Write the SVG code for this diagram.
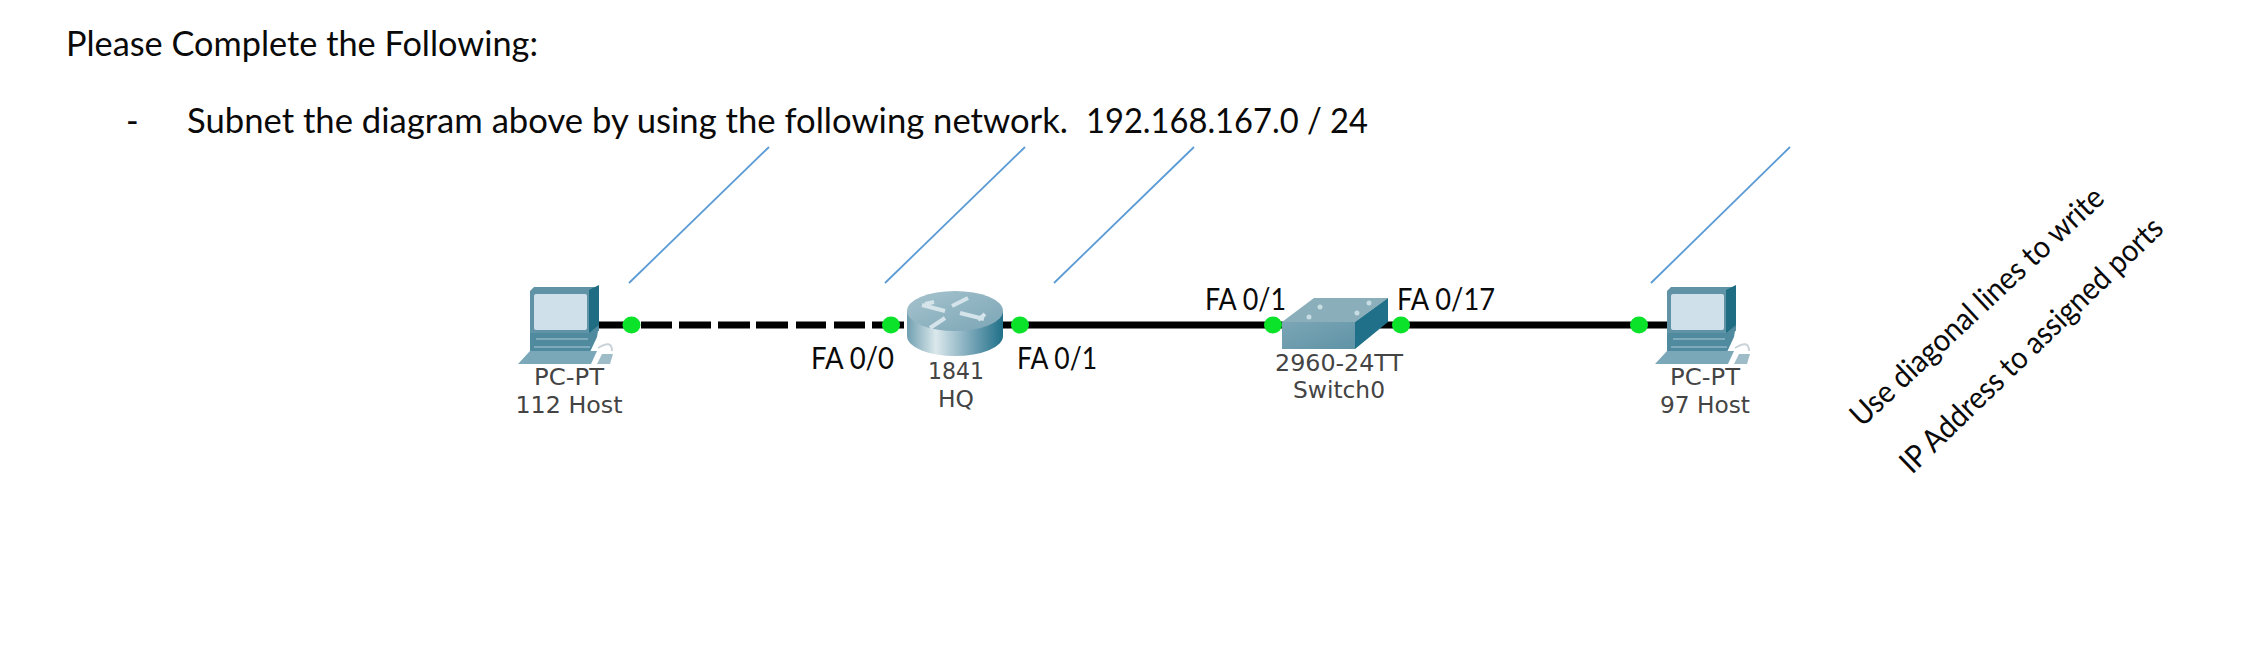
<svg xmlns="http://www.w3.org/2000/svg" width="2247" height="647" viewBox="0 0 2247 647">
<style>
.cal{font-family:Lato,"Liberation Sans",sans-serif;fill:#0a0a0a}
.h{font-size:34px}.p{font-size:30px}.r{font-size:31px}
.pt{font-family:"DejaVu Sans","Liberation Sans",sans-serif;font-size:23px;fill:#444;text-anchor:middle}
.ln{stroke:#5b9bd5;stroke-width:1.8;fill:none}
.w{stroke:#000;stroke-width:7;fill:none}
.d{fill:#0be32a}
</style>
<defs>
<linearGradient id="rb" x1="0" x2="1" y1="0" y2="0"><stop offset="0" stop-color="#6f9fb0"/><stop offset=".3" stop-color="#dbe8ec"/><stop offset=".7" stop-color="#6fa0b3"/><stop offset="1" stop-color="#1f7088"/></linearGradient>
<linearGradient id="rt" x1="0" x2="1" y1="0" y2="1"><stop offset="0" stop-color="#a6c3ce"/><stop offset="1" stop-color="#7ba5b5"/></linearGradient>
<linearGradient id="sf" x1="0" x2="1" y1="0" y2="1"><stop offset="0" stop-color="#7ba6b6"/><stop offset="1" stop-color="#5f93a6"/></linearGradient>
<g id="pc">
<path d="M12 6 L16 2 H81 V46 L70 48 H12 Z" fill="#5f93a5"/>
<path d="M71 5 L81 0 V42 L71 50 Z" fill="#1e6d82"/>
<rect x="16" y="9" width="53" height="36" rx="2" fill="#cfe0ea"/>
<path d="M12 48 H71 L81 40 L79 52 L72 67 H12 Z" fill="#4f8a9e"/>
<path d="M18 54 H70M16 62 H72" stroke="#7eaabb" stroke-width="2" fill="none"/>
<path d="M12 66 H79 L73 79 H0 Z" fill="#7ba8b9"/>
<path d="M79 79 H92 L95 69 H84 Z" fill="#9dbcc8"/>
<path d="M80 63 Q94 54 94 66" fill="none" stroke="#c9d3d8" stroke-width="2"/>
</g>
</defs>
<rect width="2247" height="647" fill="#fff"/>

<g id="text">
<text class="cal h" x="66" y="56" textLength="472" lengthAdjust="spacingAndGlyphs">Please Complete the Following:</text>
<text class="cal h" x="126" y="133">-</text>
<text class="cal h" x="187" y="133" textLength="881" lengthAdjust="spacingAndGlyphs">Subnet the diagram above by using the following network.</text>
<text class="cal h" x="1086" y="133" textLength="282" lengthAdjust="spacingAndGlyphs">192.168.167.0 / 24</text>
<text class="cal r" transform="translate(1862 428) rotate(-43)" textLength="334" lengthAdjust="spacingAndGlyphs">Use diagonal lines to write</text>
<text class="cal r" transform="translate(1912 475) rotate(-44)" textLength="352" lengthAdjust="spacingAndGlyphs">IP Address to assigned ports</text>
</g>

<g id="connectors">
<line class="ln" x1="629" y1="283" x2="769" y2="147"/>
<line class="ln" x1="885" y1="283" x2="1025" y2="147"/>
<line class="ln" x1="1054" y1="283" x2="1194" y2="147"/>
<line class="ln" x1="1651" y1="283" x2="1790" y2="147"/>
<line class="w" x1="598" y1="325" x2="636" y2="325"/>
<path class="w" d="M641 325H672M679 325H711M718 325H750M756 325H788M796 325H826M834 325H865M872 325H904"/>
<line class="w" x1="1000" y1="325" x2="1290" y2="325"/>
<line class="w" x1="1380" y1="325" x2="1670" y2="325"/>
<ellipse class="d" cx="631.5" cy="325" rx="9" ry="8.5"/>
<ellipse class="d" cx="891" cy="325" rx="9" ry="8.5"/>
<ellipse class="d" cx="1020" cy="325" rx="9" ry="8.5"/>
<ellipse class="d" cx="1273" cy="325" rx="9" ry="8.5"/>
<ellipse class="d" cx="1401" cy="325" rx="9" ry="8.5"/>
<ellipse class="d" cx="1639" cy="325" rx="9" ry="8.5"/>
</g>

<g id="pc112">
<use href="#pc" x="518" y="285"/>
<text class="pt" x="569" y="385" textLength="70" lengthAdjust="spacingAndGlyphs">PC-PT</text>
<text class="pt" x="569" y="413" textLength="107" lengthAdjust="spacingAndGlyphs">112 Host</text>
</g>

<g id="router">
<path d="M907 311 V336 A48 20 0 0 0 1003 336 V311 Z" fill="url(#rb)"/>
<ellipse cx="955" cy="311" rx="48" ry="20" fill="url(#rt)"/>
<path d="M922 305 L945 311 M960 313 L984 319 M968 298 L952 306 M945 318 L930 328 M925 304 L934 302 M978 320 L985 314" stroke="#d5e4ea" stroke-width="4" fill="none"/>
<text class="pt" x="956" y="379" textLength="56" lengthAdjust="spacingAndGlyphs">1841</text>
<text class="pt" x="956" y="407" textLength="36" lengthAdjust="spacingAndGlyphs">HQ</text>
<text class="cal p" x="811" y="369" textLength="83" lengthAdjust="spacingAndGlyphs">FA 0/0</text>
<text class="cal p" x="1017" y="369" textLength="80" lengthAdjust="spacingAndGlyphs">FA 0/1</text>
</g>

<g id="switch">
<path d="M1314 298 H1388 L1355 322 H1282 Z" fill="#8aaeba"/>
<path d="M1282 322 H1355 V349 H1282 Z" fill="url(#sf)"/>
<path d="M1388 298 V322 L1355 349 V322 Z" fill="#1f7088"/>
<circle cx="1320" cy="307" r="2.5" fill="#c7dce3"/><circle cx="1369" cy="303" r="2.5" fill="#c7dce3"/><circle cx="1357" cy="313" r="2.5" fill="#c7dce3"/><circle cx="1309" cy="317" r="2.5" fill="#c7dce3"/>
<text class="pt" x="1339" y="371" textLength="128" lengthAdjust="spacingAndGlyphs">2960-24TT</text>
<text class="pt" x="1339" y="398" textLength="92" lengthAdjust="spacingAndGlyphs">Switch0</text>
<text class="cal p" x="1205" y="310" textLength="81" lengthAdjust="spacingAndGlyphs">FA 0/1</text>
<text class="cal p" x="1397" y="310" textLength="98" lengthAdjust="spacingAndGlyphs">FA 0/17</text>
</g>

<g id="pc97">
<use href="#pc" x="1655" y="285"/>
<text class="pt" x="1705" y="385" textLength="70" lengthAdjust="spacingAndGlyphs">PC-PT</text>
<text class="pt" x="1705" y="413" textLength="90" lengthAdjust="spacingAndGlyphs">97 Host</text>
</g>
</svg>
